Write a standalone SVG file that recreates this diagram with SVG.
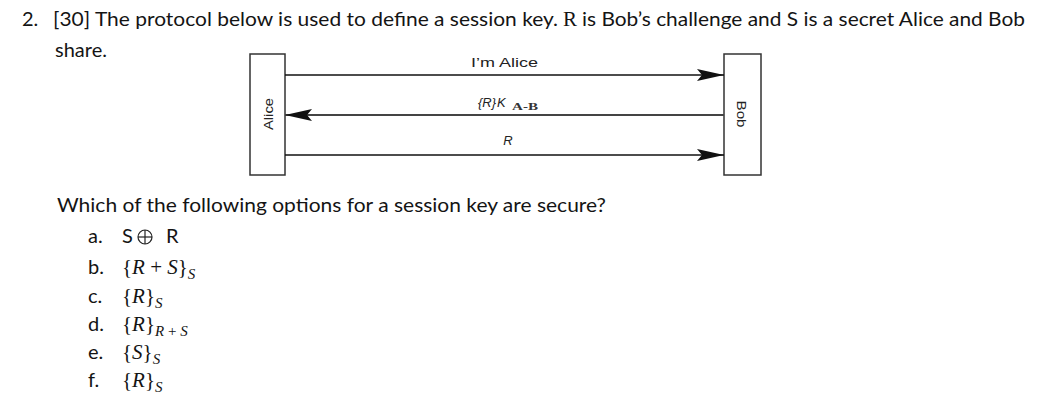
<svg xmlns="http://www.w3.org/2000/svg" width="1041" height="401" viewBox="0 0 1041 401">
<style>
.t{font-family:Lato,"Open Sans","Liberation Sans",sans-serif;font-size:20px;fill:#141414}
.m{font-family:"Liberation Serif","DejaVu Serif",serif;font-size:21px;fill:#141414}
.sub{font-size:15px}
.i{font-style:italic}
.d{font-family:"Liberation Sans",Arial,sans-serif;font-size:13px;fill:#222}
.box{fill:#fff;stroke:#333;stroke-width:1.5}
.msg{stroke:#111;stroke-width:1.5;fill:none}
.msg2{stroke:#444;stroke-width:2;fill:none}
</style>
<defs>
<marker id="ah" viewBox="0 0 27 12" refX="27" refY="6" markerWidth="27" markerHeight="12" markerUnits="userSpaceOnUse" orient="auto"><path d="M0,0 L27,6 L0,12 L5,6 z" fill="#111"/></marker>
</defs>
<g id="question">
<text class="t" x="22" y="26">2.</text>
<text class="t" x="53" y="26" textLength="505" lengthAdjust="spacingAndGlyphs">[30] The protocol below is used to define a session key.</text>
<text class="m" x="563" y="26" font-size="20">R</text>
<text class="t" x="582" y="26" textLength="443" lengthAdjust="spacingAndGlyphs">is Bob’s challenge and S is a secret Alice and Bob</text>
<text class="t" x="55" y="57">share.</text>
</g>
<g id="alice">
<rect class="box" x="250" y="54" width="35" height="121"/>
<text class="d" transform="translate(273,114) rotate(-90)" text-anchor="middle" font-size="14" textLength="32" lengthAdjust="spacingAndGlyphs">Alice</text>
</g>
<g id="bob">
<rect class="box" x="724" y="54" width="37" height="121"/>
<text class="d" transform="translate(737,114) rotate(90)" text-anchor="middle" font-size="14" textLength="27" lengthAdjust="spacingAndGlyphs">Bob</text>
</g>
<g id="connectors">
<line class="msg" x1="285" y1="75" x2="724" y2="75" marker-end="url(#ah)"/>
<line class="msg2" x1="724" y1="115" x2="285" y2="115" marker-end="url(#ah)"/>
<line class="msg" x1="285" y1="155" x2="724" y2="155" marker-end="url(#ah)"/>
<text class="d" x="471" y="67" textLength="67" lengthAdjust="spacingAndGlyphs">I’m Alice</text>
<text class="d i" x="478" y="107" textLength="18" lengthAdjust="spacingAndGlyphs">{R}</text>
<text class="d i" x="497" y="107" font-size="15">K</text>
<text x="512" y="110" font-family="'Liberation Serif',serif" font-size="11" font-weight="bold" fill="#333" textLength="26" lengthAdjust="spacingAndGlyphs">A-B</text>
<text class="d i" x="508" y="145" text-anchor="middle" font-size="14">R</text>
</g>
<g id="options">
<text class="t" x="57" y="212" textLength="549" lengthAdjust="spacingAndGlyphs">Which of the following options for a session key are secure?</text>
<text class="t" x="88" y="243">a.</text>
<text class="t" x="122" y="243">S</text>
<circle cx="145" cy="237" r="7" fill="none" stroke="#222" stroke-width="1.2"/>
<line x1="138" y1="237" x2="152" y2="237" stroke="#222" stroke-width="1.2"/>
<line x1="145" y1="230" x2="145" y2="244" stroke="#222" stroke-width="1.2"/>
<text class="t" x="166" y="243">R</text>
<text class="t" x="88" y="274">b.</text>
<text class="m" x="122" y="274">{<tspan class="i">R</tspan> + <tspan class="i">S</tspan>}<tspan class="sub i" dy="5">S</tspan></text>
<text class="t" x="88" y="303">c.</text>
<text class="m" x="122" y="303">{<tspan class="i">R</tspan>}<tspan class="sub i" dy="5">S</tspan></text>
<text class="t" x="88" y="331">d.</text>
<text class="m" x="122" y="331">{<tspan class="i">R</tspan>}<tspan class="sub" dy="5"><tspan class="i">R</tspan> + <tspan class="i">S</tspan></tspan></text>
<text class="t" x="88" y="359">e.</text>
<text class="m" x="122" y="359">{<tspan class="i">S</tspan>}<tspan class="sub i" dy="5">S</tspan></text>
<text class="t" x="88" y="387">f.</text>
<text class="m" x="122" y="387">{<tspan class="i">R</tspan>}<tspan class="sub i" dy="5">S</tspan></text>
</g>
</svg>
